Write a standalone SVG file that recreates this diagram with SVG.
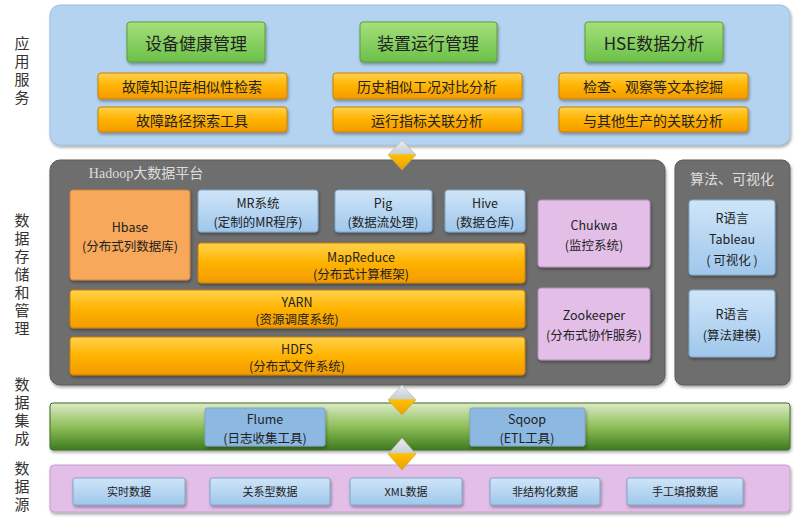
<svg xmlns="http://www.w3.org/2000/svg" width="800" height="524" viewBox="0 0 800 524">
<defs>
<linearGradient id="gOr" x1="0" y1="0" x2="0" y2="1"><stop offset="0" stop-color="#ffd24d"/><stop offset="0.5" stop-color="#ffb300"/><stop offset="1" stop-color="#f29a00"/></linearGradient>
<linearGradient id="gGr" x1="0" y1="0" x2="0" y2="1"><stop offset="0" stop-color="#a6e07a"/><stop offset="1" stop-color="#6cc04a"/></linearGradient>
<linearGradient id="gInt" x1="0" y1="0" x2="0" y2="1"><stop offset="0" stop-color="#dcebc6"/><stop offset="0.5" stop-color="#8fbf5a"/><stop offset="1" stop-color="#3f7a1f"/></linearGradient>
<linearGradient id="gBl" x1="0" y1="0" x2="0" y2="1"><stop offset="0" stop-color="#cfe5f8"/><stop offset="1" stop-color="#9fc7ec"/></linearGradient>
<linearGradient id="gDi" x1="0" y1="0" x2="0" y2="1"><stop offset="0" stop-color="#e8eef4"/><stop offset="0.45" stop-color="#c8d0d8"/><stop offset="0.5" stop-color="#ffc000"/><stop offset="1" stop-color="#e8a000"/></linearGradient>
<filter id="sh" x="-10%" y="-10%" width="130%" height="140%"><feDropShadow dx="1" dy="2" stdDeviation="1.5" flood-opacity="0.35"/></filter>
</defs>
<style>
text{font-family:"Microsoft YaHei","Noto Sans CJK SC","Liberation Sans",sans-serif;text-anchor:middle;dominant-baseline:central;fill:#222}
.side{font-size:15px;fill:#333;writing-mode:tb;letter-spacing:3px;dominant-baseline:auto}
.g{fill:url(#gGr);stroke:#5a9e3a;filter:url(#sh)}
.o{fill:url(#gOr);stroke:#c98000;filter:url(#sh)}
.b{fill:url(#gBl);stroke:#7fa6c8;filter:url(#sh)}
.p{fill:#e3bfe8;stroke:#b48fc0;filter:url(#sh)}
.t1{font-size:17px}
.t2{font-size:14px}
.t3{font-size:12.5px}
.t4{font-size:11px}
.hd{font-size:14px;fill:#ddd;font-family:"Liberation Serif","Noto Sans CJK SC",serif}
</style>
<g id="labels">
<text class="side" x="22" y="72">应用服务</text>
<text class="side" x="22" y="276">数据存储和管理</text>
<text class="side" x="22" y="413">数据集成</text>
<text class="side" x="22" y="488">数据源</text>
</g>
<g id="app">
<rect x="50" y="5" width="740" height="140" rx="10" fill="#b3d3f0" stroke="#9cbfdf" filter="url(#sh)"/>
<rect class="g" x="127" y="22" width="138" height="40" rx="3"/><text class="t1" x="196" y="42">设备健康管理</text>
<rect class="g" x="360" y="22" width="137" height="40" rx="3"/><text class="t1" x="428" y="42">装置运行管理</text>
<rect class="g" x="585" y="22" width="138" height="40" rx="3"/><text class="t1" x="654" y="42">HSE数据分析</text>
<rect class="o" x="98" y="73" width="189" height="26" rx="3"/><text class="t2" x="192" y="86">故障知识库相似性检索</text>
<rect class="o" x="98" y="107" width="189" height="25" rx="3"/><text class="t2" x="192" y="120">故障路径探索工具</text>
<rect class="o" x="333" y="73" width="189" height="26" rx="3"/><text class="t2" x="427" y="86">历史相似工况对比分析</text>
<rect class="o" x="333" y="107" width="189" height="25" rx="3"/><text class="t2" x="427" y="120">运行指标关联分析</text>
<rect class="o" x="559" y="73" width="189" height="26" rx="3"/><text class="t2" x="653" y="86">检查、观察等文本挖掘</text>
<rect class="o" x="559" y="107" width="189" height="25" rx="3"/><text class="t2" x="653" y="120">与其他生产的关联分析</text>
</g>
<g id="hadoop">
<rect x="50" y="160" width="615" height="225" rx="10" fill="#6e6e6e" stroke="#5a5a5a" filter="url(#sh)"/>
<text class="hd" x="146" y="173">Hadoop大数据平台</text>
<rect x="70" y="190" width="120" height="90" rx="3" fill="#f7a85a" stroke="#d08040" filter="url(#sh)"/><text class="t3" x="130" y="226">Hbase</text><text class="t3" x="130" y="245">(分布式列数据库)</text>
<rect class="b" x="198" y="190" width="120" height="42" rx="3"/><text class="t3" x="258" y="202">MR系统</text><text class="t3" x="258" y="221">(定制的MR程序)</text>
<rect class="b" x="335" y="190" width="97" height="42" rx="3"/><text class="t3" x="383" y="202">Pig</text><text class="t3" x="383" y="221">(数据流处理)</text>
<rect class="b" x="445" y="190" width="80" height="42" rx="3"/><text class="t3" x="485" y="202">Hive</text><text class="t3" x="485" y="221">(数据仓库)</text>
<rect class="o" x="198" y="243" width="327" height="40" rx="3"/><text class="t3" x="361" y="256">MapReduce</text><text class="t3" x="361" y="273">(分布式计算框架)</text>
<rect class="o" x="70" y="290" width="455" height="38" rx="3"/><text class="t3" x="297" y="301">YARN</text><text class="t3" x="297" y="318">(资源调度系统)</text>
<rect class="o" x="70" y="337" width="455" height="38" rx="3"/><text class="t3" x="297" y="348">HDFS</text><text class="t3" x="297" y="365">(分布式文件系统)</text>
<rect class="p" x="538" y="200" width="112" height="67" rx="3"/><text class="t3" x="594" y="224">Chukwa</text><text class="t3" x="594" y="244">(监控系统)</text>
<rect class="p" x="538" y="288" width="112" height="72" rx="3"/><text class="t3" x="594" y="314">Zookeeper</text><text class="t3" x="594" y="334">(分布式协作服务)</text>
</g>
<g id="algo">
<rect x="675" y="160" width="115" height="225" rx="8" fill="#6e6e6e" stroke="#5a5a5a" filter="url(#sh)"/>
<text x="732" y="178" style="font-size:14px;fill:#ddd">算法、可视化</text>
<rect class="b" x="689" y="200" width="86" height="75" rx="3"/><text class="t3" x="732" y="217">R语言</text><text class="t3" x="732" y="238">Tableau</text><text class="t3" x="732" y="259">( 可视化 )</text>
<rect class="b" x="689" y="290" width="86" height="67" rx="3"/><text class="t3" x="732" y="313">R语言</text><text class="t3" x="732" y="334">(算法建模)</text>
</g>
<g id="integration">
<rect x="50" y="403" width="740" height="47" rx="3" fill="url(#gInt)" stroke="#3f6b25" filter="url(#sh)"/>
<rect class="b" x="205" y="408" width="120" height="38" rx="2" style="fill:#8db8e2"/><text class="t3" x="265" y="418">Flume</text><text class="t3" x="265" y="437">(日志收集工具)</text>
<rect class="b" x="470" y="408" width="115" height="38" rx="2" style="fill:#8db8e2"/><text class="t3" x="527" y="418">Sqoop</text><text class="t3" x="527" y="437">(ETL工具)</text>
</g>
<g id="sources">
<rect x="50" y="465" width="740" height="47" rx="4" fill="#e3bfe8" stroke="#c7a0d0" filter="url(#sh)"/>
<rect class="b" x="73" y="478" width="112" height="27" rx="2"/><text class="t4" x="129" y="491">实时数据</text>
<rect class="b" x="210" y="478" width="120" height="27" rx="2"/><text class="t4" x="270" y="491">关系型数据</text>
<rect class="b" x="350" y="478" width="112" height="27" rx="2"/><text class="t4" x="406" y="491">XML数据</text>
<rect class="b" x="490" y="478" width="110" height="27" rx="2"/><text class="t4" x="545" y="491">非结构化数据</text>
<rect class="b" x="627" y="478" width="116" height="27" rx="2"/><text class="t4" x="685" y="491">手工填报数据</text>
</g>
<g id="connectors">
<polygon points="402,140 416,155 402,170 388,155" fill="url(#gDi)" stroke="#c0a060" stroke-width="0.5"/>
<polygon points="402,385 416,400 402,415 388,400" fill="url(#gDi)" stroke="#c0a060" stroke-width="0.5"/>
<polygon points="402,438 416,454 402,470 388,454" fill="url(#gDi)" stroke="#c0a060" stroke-width="0.5"/>
</g>
</svg>
